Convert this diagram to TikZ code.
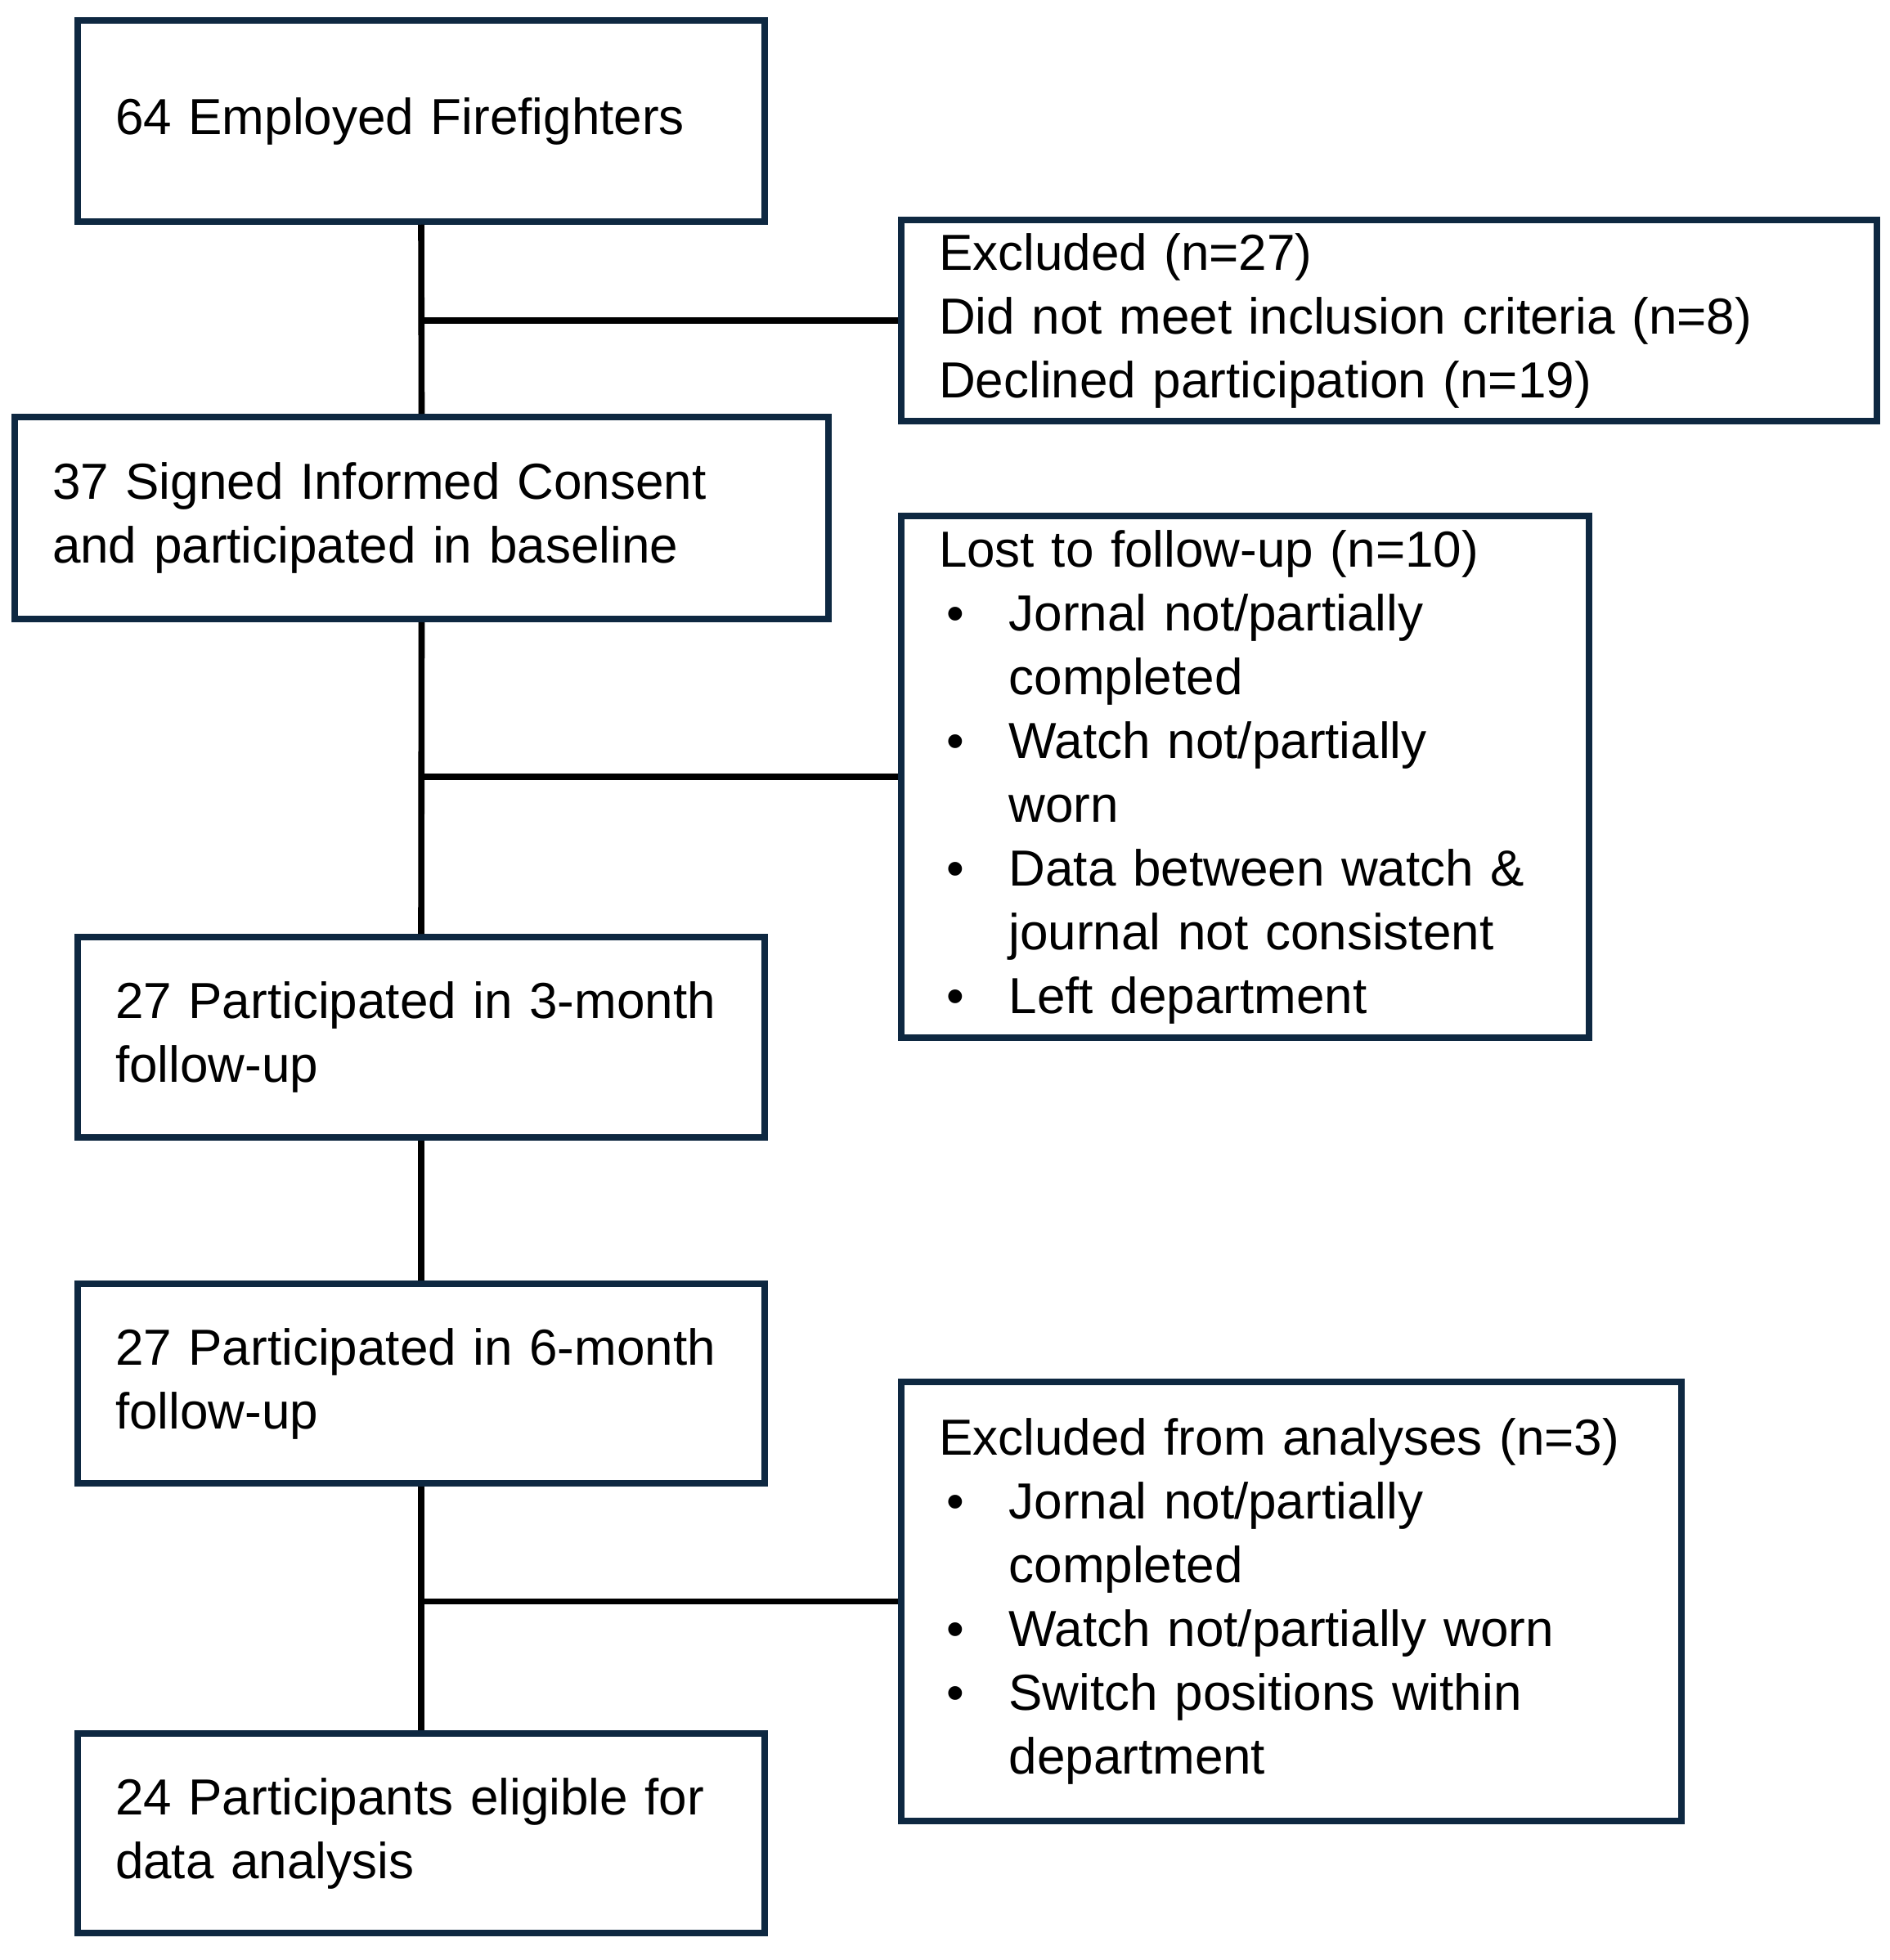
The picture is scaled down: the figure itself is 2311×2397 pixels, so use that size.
\documentclass[tikz,border=0pt]{standalone}
\usepackage{fontspec}
\setmainfont{Liberation Sans}
\definecolor{boxline}{HTML}{0E2841}
\newcommand\bul[1]{\makebox[42.8pt][l]{\hspace*{4.5pt}\textbullet}#1}
\newcommand\ind[1]{\hspace*{42.8pt}#1}
\begin{document}
\begin{tikzpicture}[x=0.5pt,y=-0.5pt,
  box/.style={draw=boxline, line width=4pt, fill=white, align=left,
    font=\fontsize{31}{39}\selectfont, inner xsep=23pt, inner ysep=0pt, anchor=center},
  conn/.style={draw=black, line width=3.8pt}]
\useasboundingbox[fill=white] (0,0) rectangle (2311,2397);
% main column
\node[box, text width=374pt, minimum height=122.75pt] (b1) at (515,148) {64 Employed Firefighters};
\node[box, text width=451.5pt, minimum height=123.5pt] (b2) at (515.5,633.5) {37 Signed Informed Consent\\and participated in baseline};
\node[box, text width=374pt, minimum height=122.5pt] (b3) at (515,1268.5) {27 Participated in 3-month\\follow-up};
\node[box, text width=374pt, minimum height=122pt] (b4) at (515,1692) {27 Participated in 6-month\\follow-up};
\node[box, text width=374pt, minimum height=122pt] (b5) at (515,2242) {24 Participants eligible for\\data analysis};
% side boxes
\node[box, text width=550.5pt, minimum height=123pt] (ex1) at (1698.5,392) {Excluded (n=27)\\Did not meet inclusion criteria (n=8)\\Declined participation (n=19)};
\node[box, text width=374.5pt, minimum height=319pt] (lost) at (1522.5,950) {Lost to follow-up (n=10)\\
\bul{Jornal not/partially}\\\ind{completed}\\
\bul{Watch not/partially}\\\ind{worn}\\
\bul{Data between watch \&}\\\ind{journal not consistent}\\
\bul{Left department}};
\node[box, text width=431pt, minimum height=268.5pt] (ex2) at (1579,1958.5) {Excluded from analyses (n=3)\\
\bul{Jornal not/partially}\\\ind{completed}\\
\bul{Watch not/partially worn}\\
\bul{Switch positions within}\\\ind{department}};
% connectors
\draw[conn] (b1.south) -- (b2.north);
\draw[conn] (b2.south) -- (b3.north);
\draw[conn] (b3.south) -- (b4.north);
\draw[conn] (b4.south) -- (b5.north);
\draw[conn] (b1.south |- ex1.west) -- (ex1.west);
\draw[conn] (b2.south |- lost.west) -- (lost.west);
\draw[conn] (b4.south |- ex2.west) -- (ex2.west);
\end{tikzpicture}
\end{document}
